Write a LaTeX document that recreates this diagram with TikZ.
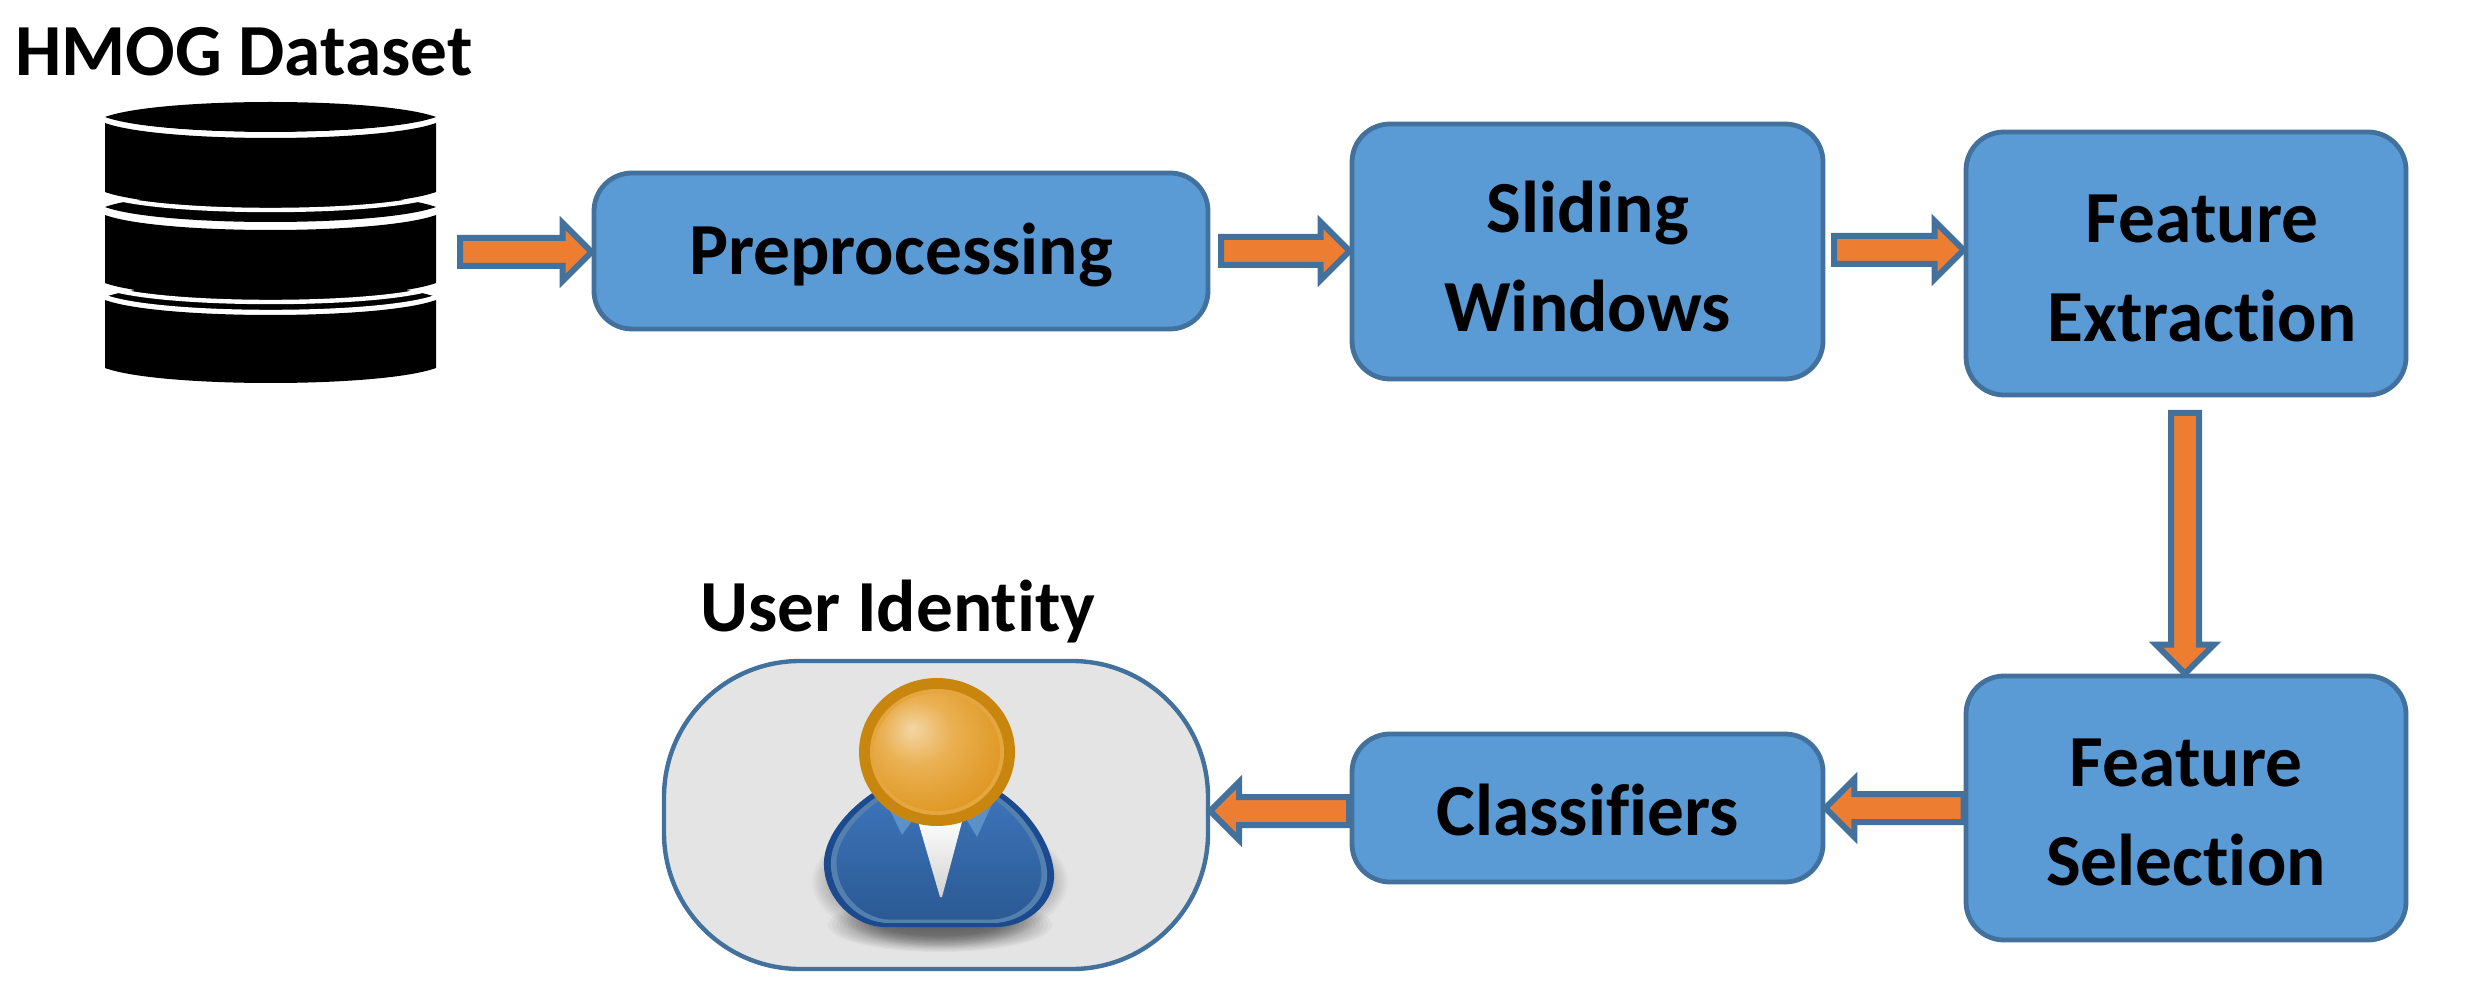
\documentclass[tikz,border=0pt]{standalone}
\usepackage{fontspec}
\setmainfont{Carlito}[Ligatures=NoCommon]
\usetikzlibrary{calc}
\definecolor{boxfill}{HTML}{5B9BD5}
\definecolor{boxline}{HTML}{41719C}
\definecolor{flowfill}{HTML}{ED7D31}
\definecolor{pillfill}{HTML}{E4E4E4}
\definecolor{pillline}{HTML}{41719C}
\definecolor{headline}{HTML}{C8860F}
\definecolor{headring}{HTML}{E5A63F}
\definecolor{bodyline}{HTML}{1B4A8F}
\definecolor{bodyring}{HTML}{5480B0}
\definecolor{bodytop}{HTML}{3C73B8}
\definecolor{bodybot}{HTML}{2B5A94}
\definecolor{collar}{HTML}{5C90C8}
\definecolor{headlight}{HTML}{F3D6A4}
\definecolor{headmid}{HTML}{EAB052}
\definecolor{headdark}{HTML}{DE961F}
\pgfdeclareradialshading{headshade}{\pgfpoint{-10bp}{10bp}}{%
  color(0bp)=(headlight); color(14bp)=(headmid); color(34bp)=(headdark); color(70bp)=(headdark)}
\newcommand{\lift}[1]{\rule{0pt}{#1pt}}
\tikzset{
  stepbox/.style={draw=boxline,line width=2.4pt,fill=boxfill,rounded corners=19pt,inner sep=0pt,
    align=center,font=\fontsize{36.7}{49.5}\selectfont\bfseries,text=black},
  title/.style={inner sep=0pt,font=\fontsize{36.7}{44}\selectfont\bfseries,text=black},
  flowshape/.style={draw=boxline,line width=3pt,fill=flowfill,miter limit=10,line join=miter},
  gapline/.style={draw=white,line width=2.2pt}
}
% block arrow from the point #1 to the point #2
\newcommand{\flow}[2]{%
  \coordinate (hb) at ($(#2)!14.5pt!(#1)$);
  \draw[flowshape] ($(#1)!7pt!90:(#2)$) -- ($(hb)!7pt!90:(#2)$) -- ($(hb)!14.5pt!90:(#2)$) -- (#2)
    -- ($(hb)!14.5pt!-90:(#2)$) -- ($(hb)!7pt!-90:(#2)$) -- ($(#1)!7pt!-90:(#2)$) -- cycle;}
% one black band: top y #1, bottom y #2, sag #3
\newcommand{\band}[3]{%
  \fill[black] (105,#1) .. controls (160,{#1+1.333*#3}) and (381,{#1+1.333*#3}) .. (436,#1) -- (436,#2)
     .. controls (381,{#2+1.333*#3}) and (160,{#2+1.333*#3}) .. (105,#2) -- cycle;}
% black lens of a disc top: mid y #1, half height #2
\newcommand{\lens}[2]{%
  \fill[black] (105,#1) .. controls (160,{#1-1.333*#2}) and (381,{#1-1.333*#2}) .. (436,#1)
     .. controls (381,{#1+1.333*#2}) and (160,{#1+1.333*#2}) .. (105,#1) -- cycle;}
\newcommand{\bodyoutline}{(877,790) .. controls (845,810) and (822,840) .. (824,867)
   .. controls (826,900) and (855,927) .. (885,927) -- (996,927)
   .. controls (1030,927) and (1056,900) .. (1054,873)
   .. controls (1052,845) and (1030,812) .. (1002,793) -- cycle}
\begin{document}
\begin{tikzpicture}[x=0.5pt,y=-0.5pt]
\useasboundingbox (0,0) rectangle (2466,999);
\fill[white] (0,0) rectangle (2466,999);

% boxes
\node[stepbox,minimum width=307pt,minimum height=78pt] (pre) at (901,251) {\lift{30}Preprocessing};
\node[stepbox,minimum width=235.5pt,minimum height=127.5pt] (slide) at (1587.5,251.5) {\lift{31}Sliding\\Windows};
\node[stepbox,minimum width=220pt,minimum height=131.5pt] (extract) at (2186,263.5) {\lift{29}\hspace*{16pt}Feature\\\hspace*{16pt}Extraction};
\node[stepbox,minimum width=220pt,minimum height=132pt] (select) at (2186,808) {\lift{28}Feature\\Selection};
\node[stepbox,minimum width=235.5pt,minimum height=74pt] (class) at (1587.5,808) {\lift{28}Classifiers};
\node[draw=pillline,line width=2.2pt,fill=pillfill,rounded corners=68pt,minimum width=272pt,minimum height=154pt,inner sep=0pt] (user) at (936,815) {};

% labels
\node[title] (hmog) at (244,52) {HMOG Dataset};
\node[title] (identity) at (898,612) {User Identity};

% database
\lens{117}{15}
\lens{207}{15}
\lens{297}{15}
\draw[gapline] (105,120.5) .. controls (160,139) and (381,139) .. (436,120.5);
\band{123}{192}{15}
\draw[gapline] (105,195) .. controls (160,215) and (381,215) .. (436,195);
\draw[gapline] (105,212) .. controls (160,231) and (381,231) .. (436,212);
\band{215}{283}{15}
\draw[gapline] (105,287) .. controls (160,307) and (381,307) .. (436,287);
\draw[gapline] (105,297) .. controls (160,317) and (381,317) .. (436,297);
\band{300}{368}{15}

% person: soft shadow built from faint concentric ellipses
\foreach \k in {0,...,13}{
  \fill[black,opacity=0.022] (940,882) ellipse[x radius={128-2*\k},y radius={66-2*\k}];
}
\foreach \k in {0,...,13}{
  \fill[black,opacity=0.035] (940,925) ellipse[x radius={112-4*\k},y radius={27-1.2*\k}];
}
\fill[bodyline] \bodyoutline;
\begin{scope}[shift={(939,860)},scale=0.94,shift={(-939,-860)}]
  \fill[bodyring] \bodyoutline;
\end{scope}
\begin{scope}[shift={(939,860)},scale=0.89,shift={(-939,-860)}]
  \path[top color=bodytop,bottom color=bodybot] \bodyoutline;
\end{scope}
\fill[collar] (885,800) -- (915,817) -- (902,835) -- cycle;
\fill[collar] (994,800) -- (965,817) -- (977,837) -- cycle;
\shade[top color=white,bottom color=white!82!black] (917,818) -- (963,818) -- (942,897) -- (940,897) -- cycle;
\fill[headline] (937,752) ellipse[x radius=78,y radius=74];
\fill[headring] (937,752) ellipse[x radius=67,y radius=63];
\path[shading=headshade] (937,752) ellipse[x radius=63,y radius=59];

% arrows
\coordinate (a1) at (460,252);
\coordinate (a1t) at (pre.west |- a1);
\flow{a1}{a1t}
\coordinate (a2) at (1221,251);
\coordinate (a2t) at (slide.west |- a2);
\flow{a2}{a2t}
\coordinate (a3) at (1834,250);
\coordinate (a3t) at (extract.west |- a3);
\flow{a3}{a3t}
\coordinate (a4) at (2185,413);
\coordinate (a4t) at (a4 |- select.north);
\flow{a4}{a4t}
\coordinate (a5) at (select.west);
\coordinate (a5t) at (class.east);
\flow{a5}{a5t}
\coordinate (a6) at (1349,811);
\coordinate (a6t) at (user.east |- a6);
\flow{a6}{a6t}
\end{tikzpicture}
\end{document}
